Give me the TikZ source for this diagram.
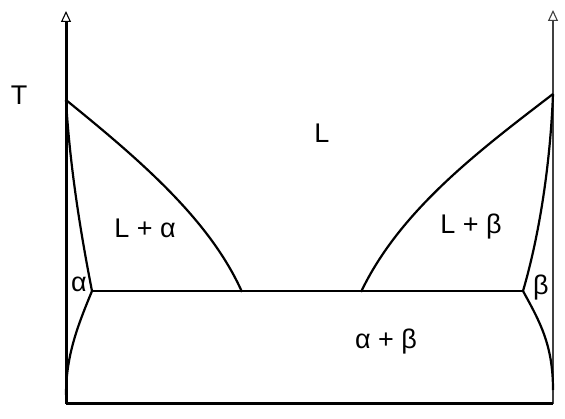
\documentclass[tikz,border=0pt]{standalone}
\usepackage{fontspec}
\setmainfont{Liberation Sans}
\usetikzlibrary{arrows.meta}
\tikzset{
  phase/.style={rectangle, draw=none, inner sep=0pt, font=\fontsize{27}{30}\selectfont},
  curve/.style={line width=2.2pt, black},
  axisarrow/.style={-{Triangle[open, width=10pt, length=11pt, line width=1.1pt]}}
}
\begin{document}
\begin{tikzpicture}[x=1pt, y=-1pt]
\useasboundingbox (0,0) rectangle (565,419);
%\draw[help lines, step=50pt] (0,0) grid (565,419);
%%%%%%%%%%%%%%%%%%%%%%%%%%%%%%% Key points of the diagram
\coordinate (origin) at (66,404);
\coordinate (topA) at (66,11);
\coordinate (endB) at (553,404);
\coordinate (topB) at (553,10);
\coordinate (meltA) at (66,100);
\coordinate (meltB) at (553,94);
\coordinate (eutA) at (92,291);
\coordinate (eutL) at (242,292);
\coordinate (eutR) at (361,292);
\coordinate (eutB) at (523,291);
%%%%%%%%%%%%%%%%%%%%%%%%%%%%%%% Axes
\draw[axisarrow, line width=3pt] (origin) -- (topA);
\draw[axisarrow, line width=1.6pt, draw=black!75] (endB) -- (topB);
\draw[line width=3pt] (origin) -- (endB);
%%%%%%%%%%%%%%%%%%%%%%%%%%%%%%% Liquidus, solidus and solvus lines
\draw[curve] (meltA) .. controls (140,160) and (210,220) .. (eutL);
\draw[curve] (meltB) .. controls (480,150) and (400,210) .. (eutR);
\draw[curve] (meltA) .. controls (70,170) and (82,240) .. (eutA);
\draw[curve] (meltB) .. controls (550,170) and (538,240) .. (eutB);
\draw[curve] (eutA) .. controls (78,325) and (66,355) .. (66,395);
\draw[curve] (eutB) .. controls (540,322) and (553,345) .. (553,390);
\draw[line width=2.6pt] (eutA) -- (eutB);
%%%%%%%%%%%%%%%%%%%%%%%%%%%%%%% Labels
\node[phase](lblT) at (19,95){T};
\node[phase](lblL) at (322,133){L};
\node[phase](lblLa) at (145,228){L + α};
\node[phase](lblLb) at (471,227){L + β};
\node[phase](lblA) at (79,284){α};
\node[phase](lblB) at (541,288){β};
\node[phase](lblAB) at (386,342){α + β};
\end{tikzpicture}
\end{document}
